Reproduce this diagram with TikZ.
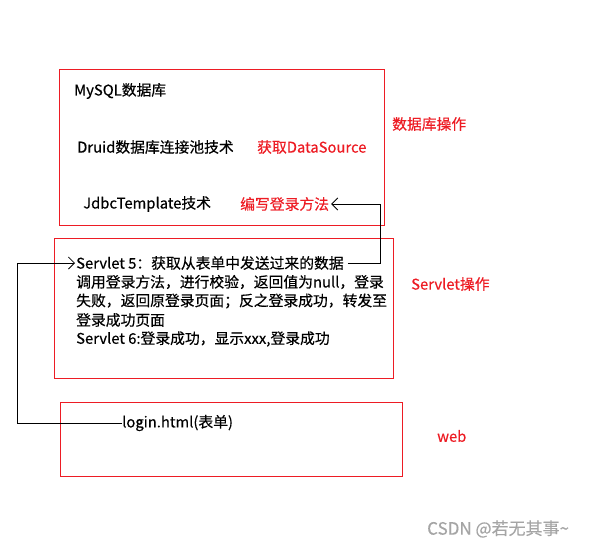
\documentclass[tikz,border=0pt]{standalone}
\usepackage{fontspec}
\setmainfont{Noto Sans CJK SC}[FakeBold=0.4]
\usetikzlibrary{arrows.meta,positioning}
\definecolor{rouge}{HTML}{ED1C24}
\definecolor{gris}{HTML}{A5A5A5}

\begin{document}
\begin{tikzpicture}[x=1pt,y=-1pt,
  cadre/.style={draw=rouge, line width=1pt},
  txt/.style={anchor=west, inner sep=0pt, font=\fontsize{14.8}{19}\selectfont},
  rtxt/.style={txt, text=rouge},
  fleche/.style={line width=0.8pt, -{Straight Barb[length=6pt,width=12pt]}}]

\useasboundingbox (0,0) rectangle (596,547);

% les trois cadres rouges
\foreach \xa/\ya/\xb/\yb in {59/69/384/225, 54/238/393/378, 60/402/402/476}{
    \draw[cadre] (\xa,\ya) rectangle (\xb,\yb);
}

% couche base de donnees
\node[txt] (mysql) at (74,91) {MySQL数据库};
\node[txt] (druid) at (77,147) {Druid数据库连接池技术};
\node[rtxt] (source) at (257,147) {获取DataSource};
\node[txt] (jdbc) at (83,204) {JdbcTemplate技术};
\node[rtxt] (methode) at (240,204) {编写登录方法};
\node[rtxt] (bdd) at (392,124) {数据库操作};

% couche servlet
\node[txt] (s5) at (76,263) {Servlet 5：获取从表单中发送过来的数据};
\foreach \ligne [count=\i] in {调用登录方法，进行校验，返回值为null，登录,
    失败，返回原登录页面；反之登录成功，转发至, 登录成功页面,
    {Servlet 6:登录成功，显示xxx,登录成功}}{
    \node[txt] (l\i) at (76,263+19*\i) {\ligne};
}
\node[rtxt] (servlet) at (411,284) {Servlet操作};

% couche web
\node[txt] (login) at (122,423) {login.html(表单)};
\node[rtxt] (web) at (437,436) {web};

% les fleches
\draw[fleche] ([xshift=4]s5.east) -- ([xshift=37]s5.east) |- ([xshift=2]methode.east);
\draw[fleche] (login.west) -- ([xshift=-105]login.west) |- ([xshift=-1]s5.west);

\node[txt, text=gris, font=\fontsize{17}{20}\selectfont] (csdn) at (427,529) {CSDN @若无其事\textasciitilde};
\end{tikzpicture}
\end{document}
